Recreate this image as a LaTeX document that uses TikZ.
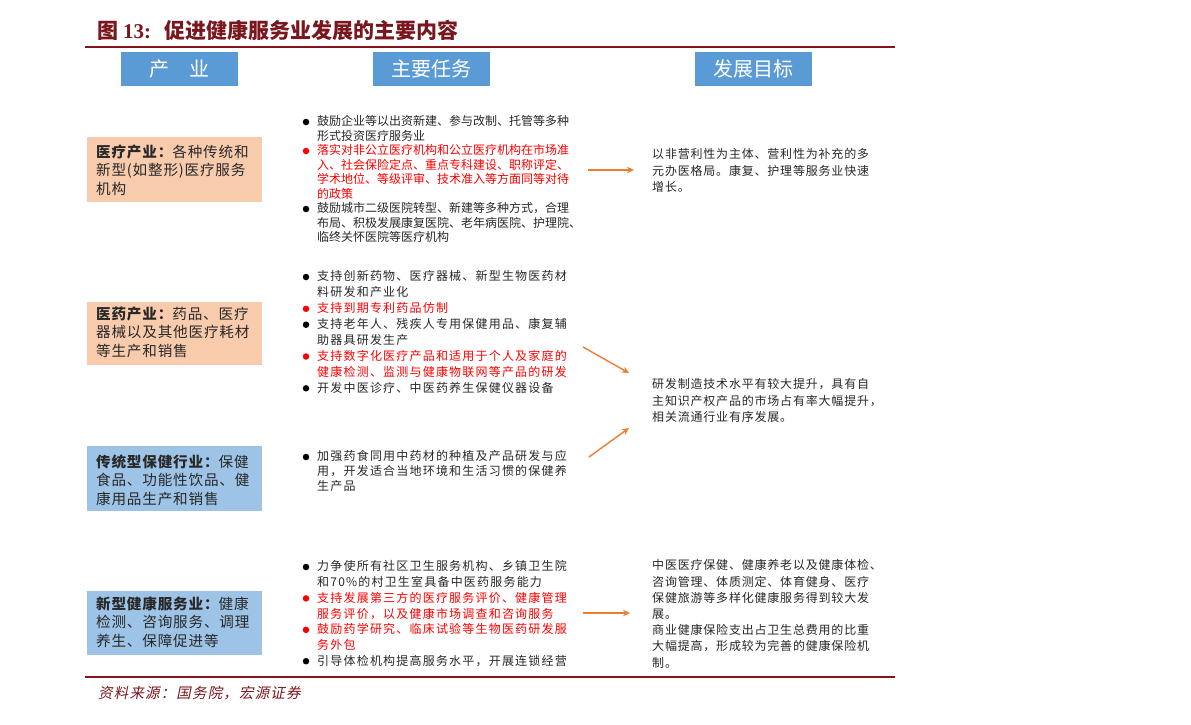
\documentclass[tikz,border=0pt]{standalone}
\usepackage{fontspec}
\newfontfamily\cjk{Noto Sans CJK SC}
\newfontfamily\cjkmid[LetterSpace=10]{Noto Sans CJK SC}
\newfontfamily\cjkgoal[LetterSpace=6.7]{Noto Sans CJK SC}
\newfontfamily\cjkind[LetterSpace=5.5]{Noto Sans CJK SC}
\newfontfamily\cjkit[FakeSlant=0.2,LetterSpace=8]{Noto Sans CJK SC}
\newfontfamily\tms{Liberation Serif}
\usetikzlibrary{arrows.meta}
\definecolor{titlered}{RGB}{122,22,30}
\definecolor{rulered}{RGB}{130,20,28}
\definecolor{hdrblue}{RGB}{91,155,213}
\definecolor{peach}{RGB}{248,203,173}
\definecolor{lblue}{RGB}{157,195,230}
\definecolor{txt}{RGB}{40,40,40}
\definecolor{arr}{RGB}{237,125,49}
\definecolor{redtxt}{RGB}{255,0,0}
\tikzset{
  hdr/.style={fill=hdrblue, minimum width=117pt, minimum height=34pt, inner sep=0pt, text=white, font=\cjk\fontsize{20}{24}\selectfont},
  indbox/.style={minimum width=175pt, anchor=north west, inner sep=0pt},
  indtxt/.style={anchor=north west, align=left, inner sep=0pt, text=txt, font=\cjkind\fontsize{14.6}{18.5}\selectfont},
  dot/.style={circle, inner sep=0pt, minimum size=6.5pt},
  midtxt/.style={anchor=north west, align=left, inner sep=0pt, font=\cjk\fontsize{12}{14.4}\selectfont},
  goaltxt/.style={anchor=north west, align=left, inner sep=0pt, text=txt, font=\cjkgoal\fontsize{12}{16.2}\selectfont},
  arrowline/.style={draw=arr, line width=1.4pt, -{Stealth[length=7pt,width=6.5pt]}},
  rulerline/.style={draw=rulered, line width=2pt}
}
\newcommand\myitem[5]{%
  \node[dot, fill=#3] (#1d) at (306,#2) {};
  \node[midtxt, text=#4] (#1) at (317,{#2-6.5}) {#5};
}
\begin{document}
\begin{tikzpicture}[x=1pt,y=-1pt]
\useasboundingbox (0,0) rectangle (1191,724);
\fill[white] (0,0) rectangle (1191,724);

% title and rules
\node[anchor=west, inner sep=0pt, text=titlered, font=\cjk\bfseries\fontsize{21}{24}\selectfont] (title) at (97,30)
  {图 {\tms\bfseries 13:}\hspace{13pt}促进健康服务业发展的主要内容};
\coordinate (r1a) at (85,47); \coordinate (r1b) at (895,47);
\draw[rulerline] (r1a) -- (r1b);
\coordinate (r2a) at (85,677); \coordinate (r2b) at (895,677);
\draw[rulerline] (r2a) -- (r2b);

% headers
\node[hdr] (h1) at (179.5,69) {产\hspace{20pt}业};
\node[hdr] (h2) at (431.5,69) {主要任务};
\node[hdr] (h3) at (753.5,69) {发展目标};

% industry boxes
\node[indbox, fill=peach, minimum height=65pt] (ind1) at (87,137) {};
\node[indtxt] (ind1t) at (96,144.5) {{\bfseries 医疗产业：}各种传统和\\新型(如整形)医疗服务\\机构};
\node[indbox, fill=peach, minimum height=63pt] (ind2) at (87,302) {};
\node[indtxt] (ind2t) at (96,306.5) {{\bfseries 医药产业：}药品、医疗\\器械以及其他医疗耗材\\等生产和销售};
\node[indbox, fill=lblue, minimum height=65pt] (ind3) at (87,446) {};
\node[indtxt] (ind3t) at (96,454.5) {{\bfseries 传统型保健行业：}保健\\食品、功能性饮品、健\\康用品生产和销售};
\node[indbox, fill=lblue, minimum height=64pt] (ind4) at (87,591) {};
\node[indtxt] (ind4t) at (96,596.5) {{\bfseries 新型健康服务业：}健康\\检测、咨询服务、调理\\养生、保障促进等};

% tasks block 1
\myitem{t1a}{122}{black}{txt}{鼓励企业等以出资新建、参与改制、托管等多种\\形式投资医疗服务业}
\myitem{t1b}{151}{redtxt}{redtxt}{落实对非公立医疗机构和公立医疗机构在市场准\\入、社会保险定点、重点专科建设、职称评定、\\学术地位、等级评审、技术准入等方面同等对待\\的政策}
\myitem{t1c}{209}{black}{txt}{鼓励城市二级医院转型、新建等多种方式，合理\\布局、积极发展康复医院、老年病医院、护理院、\\临终关怀医院等医疗机构}

% tasks block 2
\begin{scope}[midtxt/.append style={font=\cjkmid\fontsize{12}{15.9}\selectfont}]
\myitem{t2a}{277}{black}{txt}{支持创新药物、医疗器械、新型生物医药材\\料研发和产业化}
\myitem{t2b}{308.8}{redtxt}{redtxt}{支持到期专利药品仿制}
\myitem{t2c}{324.7}{black}{txt}{支持老年人、残疾人专用保健用品、康复辅\\助器具研发生产}
\myitem{t2d}{356.5}{redtxt}{redtxt}{支持数字化医疗产品和适用于个人及家庭的\\健康检测、监测与健康物联网等产品的研发}
\myitem{t2e}{388.3}{black}{txt}{开发中医诊疗、中医药养生保健仪器设备}
\end{scope}

% tasks block 3
\begin{scope}[midtxt/.append style={font=\cjkmid\fontsize{12}{15}\selectfont}]
\myitem{t3a}{457}{black}{txt}{加强药食同用中药材的种植及产品研发与应\\用，开发适合当地环境和生活习惯的保健养\\生产品}
\end{scope}

% tasks block 4
\begin{scope}[midtxt/.append style={font=\cjkmid\fontsize{12}{15.7}\selectfont}]
\myitem{t4a}{567}{black}{txt}{力争使所有社区卫生服务机构、乡镇卫生院\\和70\%的村卫生室具备中医药服务能力}
\myitem{t4b}{598.4}{redtxt}{redtxt}{支持发展第三方的医疗服务评价、健康管理\\服务评价，以及健康市场调查和咨询服务}
\myitem{t4c}{629.8}{redtxt}{redtxt}{鼓励药学研究、临床试验等生物医药研发服\\务外包}
\myitem{t4d}{661.2}{black}{txt}{引导体检机构提高服务水平，开展连锁经营}
\end{scope}

% goals
\node[goaltxt] (g1) at (652,148.5) {以非营利性为主体、营利性为补充的多\\元办医格局。康复、护理等服务业快速\\增长。};
\node[goaltxt] (g2) at (652,378.5) {研发制造技术水平有较大提升，具有自\\主知识产权产品的市场占有率大幅提升，\\相关流通行业有序发展。};
\node[goaltxt] (g3) at (652,559.5) {中医医疗保健、健康养老以及健康体检、\\咨询管理、体质测定、体育健身、医疗\\保健旅游等多样化健康服务得到较大发\\展。\\商业健康保险支出占卫生总费用的比重\\大幅提高，形成较为完善的健康保险机\\制。};

% arrows
\coordinate (a1s) at (588,170); \coordinate (a1e) at (634,170);
\draw[arrowline] (a1s) -- (a1e);
\coordinate (a2s) at (583,347); \coordinate (a2e) at (629,373);
\draw[arrowline] (a2s) -- (a2e);
\coordinate (a3s) at (589,457); \coordinate (a3e) at (629,428);
\draw[arrowline] (a3s) -- (a3e);
\coordinate (a4s) at (583,613); \coordinate (a4e) at (630,613);
\draw[arrowline] (a4s) -- (a4e);

% source
\node[anchor=west, inner sep=0pt, text=titlered, font=\cjkit\fontsize{14.5}{17}\selectfont] (src) at (98,693) {资料来源：国务院，宏源证券};
\end{tikzpicture}
\end{document}
